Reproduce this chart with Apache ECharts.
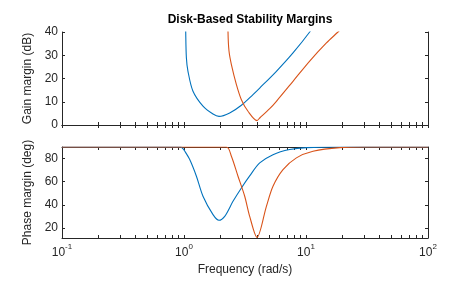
<!DOCTYPE html>
<html>
<head>
<meta charset="utf-8">
<script src="https://cdn.jsdelivr.net/npm/echarts@6/dist/echarts.min.js"></script>
<style>
html,body{margin:0;padding:0;background:#fff;}
#c{width:474px;height:285px;}
</style>
</head>
<body>
<div id="c"></div>
<script>
// ---- data (frequency rad/s, value) ----
const titleText = 'Disk-Based Stability Margins';
const xTickValues = [0.1, 1, 10, 100];
const xMinorTicks = [0.2,0.3,0.4,0.5,0.6,0.7,0.8,0.9,2,3,4,5,6,7,8,9,20,30,40,50,60,70,80,90];
const gainTicks = [0, 10, 20, 30, 40];
const phaseTicks = [20, 40, 60, 80];

const gainBlue = [
  [1.02, 60], [1.033, 40], [1.046, 28.9], [1.078, 23.1], [1.185, 14.5], [1.431, 8.1],
  [1.729, 4.7], [1.936, 3.7], [2.369, 5.2], [2.954, 8.5], [3.678, 13.1], [4.174, 15.9],
  [5.72, 23.1], [7.825, 31], [10.72, 40], [11.6, 43]
];
const gainOrange = [
  [2.28, 60], [2.295, 40], [2.338, 31.8], [2.446, 26], [2.689, 17.4], [2.954, 10.9],
  [3.346, 5.9], [3.967, 1.9], [4.174, 3.0], [5.04, 7.0], [5.72, 10.2], [7.825, 18.8],
  [10.72, 27.5], [14.7, 35.3], [18.3, 40], [20, 42]
];
const phaseBlue = [
  [0.1, 90], [0.94, 90], [0.98, 88.5], [1.013, 86.5], [1.114, 79.1], [1.264, 64.7],
  [1.431, 47.4], [1.729, 31.5], [1.936, 26.6], [2.156, 30], [2.521, 43], [2.954, 54.6],
  [3.455, 65], [4.174, 76.2], [5.364, 83.4], [7.352, 87.8], [10.08, 89.5], [20, 90], [100, 90]
];
const phaseOrange = [
  [0.1, 90], [2.226, 90], [2.446, 82], [2.771, 64.7], [3.145, 47.4], [3.455, 30],
  [3.967, 11.8], [4.736, 38.7], [5.364, 56], [6.478, 70.4], [8.343, 80.6], [11.41, 86.3],
  [18.89, 89.5], [30, 90], [100, 90]
];

const AX = '#262626';
const FONT = 'Liberation Sans, Arial, Helvetica, sans-serif';
const allXTicks = xTickValues.concat(xMinorTicks);

function xAx(grid, pos, labels) {
  const a = {
    type: 'log', logBase: 10, gridIndex: grid, position: pos, min: 0.1, max: 100,
    axisLine: {show: true, lineStyle: {color: AX, width: 1}},
    axisTick: {show: true, inside: true, length: 3, customValues: allXTicks, lineStyle: {color: AX}},
    minorTick: {show: false},
    splitLine: {show: false},
    axisLabel: {show: false}
  };
  if (labels) {
    a.axisLabel = {
      show: true, customValues: xTickValues, margin: 5, color: AX, fontFamily: FONT,
      formatter: v => '{b|10}{s|' + Math.round(Math.log10(v)) + '}',
      rich: {
        b: {fontSize: 12, fontFamily: FONT, color: AX, lineHeight: 16, verticalAlign: 'bottom'},
        s: {fontSize: 8, fontFamily: FONT, color: AX, lineHeight: 16, verticalAlign: 'top'}
      }
    };
    a.name = 'Frequency (rad/s)';
    a.nameLocation = 'middle';
    a.nameGap = 26;
    a.nameTextStyle = {fontSize: 12, fontFamily: FONT, color: AX};
  }
  return a;
}
function yAx(grid, pos, min, max, ticks, name) {
  const a = {
    type: 'value', gridIndex: grid, position: pos, min: min, max: max,
    axisLine: {show: true, lineStyle: {color: AX, width: 1}},
    axisTick: {show: true, inside: true, length: 3, customValues: ticks, lineStyle: {color: AX}},
    splitLine: {show: false},
    axisLabel: {show: false}
  };
  if (name) {
    a.axisLabel = {show: true, customValues: ticks, margin: 4, fontSize: 12, fontFamily: FONT, color: AX};
    a.name = name;
    a.nameLocation = 'middle';
    a.nameGap = 19;
    a.nameTextStyle = {fontSize: 12, fontFamily: FONT, color: AX};
  }
  return a;
}

const BLUE = '#0072BD', ORANGE = '#D95319';
function ser(data, xi, yi, color) {
  return {type: 'line', data: data, xAxisIndex: xi, yAxisIndex: yi, showSymbol: false,
    smooth: 0.3, clip: true, lineStyle: {color: color, width: 1.1}, itemStyle: {color: color},
    animation: false};
}

const chart = echarts.init(document.getElementById('c'), null, {renderer: 'canvas'});
chart.setOption({
  animation: false,
  backgroundColor: '#fff',
  title: {text: titleText, left: 245, top: 9, textAlign: 'center',
    textStyle: {fontSize: 12, fontWeight: 'bold', fontFamily: FONT, color: '#000'}},
  grid: [
    {left: 62, top: 32, width: 366, height: 93},
    {left: 62, top: 147, width: 366, height: 91}
  ],
  xAxis: [xAx(0, 'bottom', false), xAx(0, 'top', false), xAx(1, 'bottom', true), xAx(1, 'top', false)],
  yAxis: [
    yAx(0, 'left', 0, 40, gainTicks, 'Gain margin (dB)'),
    yAx(0, 'right', 0, 40, gainTicks, null),
    yAx(1, 'left', 11.3, 90, phaseTicks, 'Phase margin (deg)'),
    yAx(1, 'right', 11.3, 90, phaseTicks, null)
  ],
  series: [
    ser(gainBlue, 0, 0, BLUE),
    ser(gainOrange, 0, 0, ORANGE),
    ser(phaseBlue, 2, 2, BLUE),
    ser(phaseOrange, 2, 2, ORANGE)
  ]
});
</script>
</body>
</html>
